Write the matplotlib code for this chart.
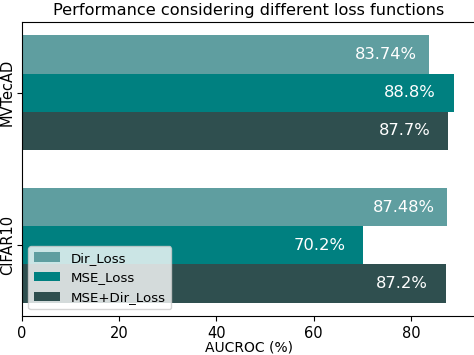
import numpy as np
import matplotlib.pyplot as plt

# data
datasets = ['CIFAR10', 'MVTecAD']
losses = ['Dir_Loss', 'MSE_Loss', 'MSE+Dir_Loss']
dir_loss = [87.48, 83.74]
mse_loss = [70.2, 88.8]
mse_dir_loss = [87.2, 87.7]
value_labels = {
    'Dir_Loss': ['87.48%', '83.74%'],
    'MSE_Loss': ['70.2%', '88.8%'],
    'MSE+Dir_Loss': ['87.2%', '87.7%'],
}
colors = ['cadetblue', 'teal', 'darkslategray']

fig = plt.figure(figsize=(4.74, 3.55), dpi=100)
ax = fig.add_axes([0.046, 0.11, 0.957, 0.828])

y = np.arange(len(datasets))
h = 0.25
series = [dir_loss, mse_loss, mse_dir_loss]
for i, (name, vals) in enumerate(zip(losses, series)):
    pos = y + h * (1 - i)
    ax.barh(pos, vals, height=h, color=colors[i], label=name)
    for p, v, lab in zip(pos, vals, value_labels[name]):
        ax.text(v - 9, p, lab, ha='center', va='center', color='white', fontsize=11.8)

ax.set_yticks(y)
ax.set_yticklabels(datasets, rotation=90, va='center')
ax.set_xlabel('AUCROC (%)', fontsize=10, labelpad=0)
ax.set_title('Performance considering different loss functions', fontsize=11.6, pad=5)
ax.tick_params(axis='x', labelsize=10.5)
ax.tick_params(axis='y', labelsize=10.5, pad=1.5)
ax.legend(loc='lower left', fontsize=9.6, framealpha=0.8)

fig.savefig('out.png', dpi=100)
